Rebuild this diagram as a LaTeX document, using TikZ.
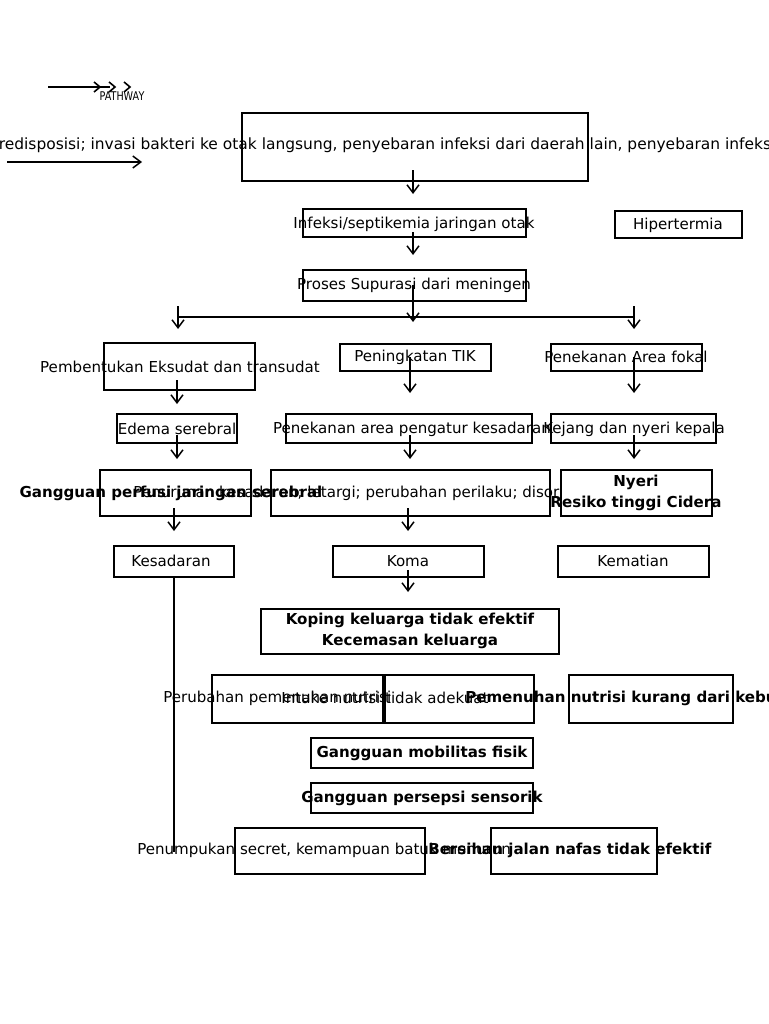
\documentclass[tikz,border=0pt]{standalone}
\usepackage{fontspec}
\setmainfont{DejaVu Sans}
\usetikzlibrary{arrows.meta}
\begin{document}
\begin{tikzpicture}[x=0.75pt,y=-0.75pt,
  box/.style={draw,line width=1.7pt,inner sep=0pt},
  wbox/.style={box,fill=white},
  txt/.style={inner sep=0pt,font=\fontsize{11.3}{13}\selectfont},
  btxt/.style={txt,font=\fontsize{11.3}{15.5}\bfseries\selectfont,align=center},
  arr/.style={line width=1.7pt,-{Straight Barb[length=6pt,width=9pt,line width=1.1pt]}},
  ln/.style={line width=1.7pt}]
\useasboundingbox (0,0) rectangle (768,1024);
% legend
\coordinate (l1) at (48,87); \coordinate (l2) at (110,87);
\draw[line width=1.2pt] (l1) -- (l2);
\foreach \x in {100,115,130}{\draw[line width=1.2pt] (\x-6,82) -- (\x,87) -- (\x-6,92);}
\node[inner sep=0pt,font=\fontsize{9}{10}\selectfont] (pw) at (122,96) {\scalebox{0.8}[1]{PATHWAY}};
\coordinate (a1) at (7,162); \coordinate (a2) at (142,162);
\draw[arr] (a1) -- (a2);
% row 0
\node[box,anchor=north west,minimum width=259.5pt,minimum height=51pt] (top) at (241,112) {};
\node[txt,anchor=west,font=\fontsize{11.6}{13}\selectfont] (toptxt) at (-64,145) {Faktor predisposisi; invasi bakteri ke otak langsung, penyebaran infeksi dari daerah lain, penyebaran infeksi};
\node[box,minimum width=167pt,minimum height=21pt] (inf) at (414.5,223) {};
\node[txt] at (414,224) {Infeksi/septikemia jaringan otak};
\node[box,minimum width=95pt,minimum height=20pt] (hip) at (678.5,224.5) {};
\node[txt] at (678,225) {Hipertermia};
\node[box,minimum width=167pt,minimum height=23pt] (pro) at (414.5,285.5) {};
\node[txt] at (414,285) {Proses Supurasi dari meningen};
\draw[arr] (413,170) -- (413,194);
\draw[arr] (413,232) -- (413,255);
% distribution
\coordinate (h1) at (178,317); \coordinate (h2) at (634,317);
\draw[ln] (h1) -- (h2);
\draw[arr] (413,285) -- (413,322);
\draw[arr] (178,306) -- (178,329);
\draw[arr] (634,306) -- (634,329);
% row 1
\node[box,minimum width=113pt,minimum height=35pt] (pem) at (179.5,366.5) {};
\node[txt] at (180,367) {Pembentukan Eksudat dan transudat};
\node[box,minimum width=113pt,minimum height=20pt] (tik) at (415.5,357.5) {};
\node[txt] at (415,357) {Peningkatan TIK};
\node[box,minimum width=113pt,minimum height=20pt] (fok) at (626.5,357.5) {};
\node[txt] at (626,357) {Penekanan Area fokal};
\draw[arr] (177,380) -- (177,404);
\draw[arr] (410,357) -- (410,393);
\draw[arr] (634,357) -- (634,393);
% row 2
\node[box,minimum width=90pt,minimum height=22pt] (ede) at (177,428.5) {};
\node[txt] at (177,429) {Edema serebral};
\node[box,minimum width=184pt,minimum height=22pt] (pen) at (409,428.5) {};
\node[txt] at (412,429) {Penekanan area pengatur kesadaran};
\node[box,minimum width=124pt,minimum height=22pt] (kej) at (633.5,428.5) {};
\node[txt] at (634,429) {Kejang dan nyeri kepala};
\draw[arr] (177,435) -- (177,459);
\draw[arr] (410,435) -- (410,459);
\draw[arr] (634,435) -- (634,459);
% row 3
\node[box,minimum width=113pt,minimum height=35pt] (gpj) at (175.5,493) {};
\node[box,minimum width=209pt,minimum height=35pt] (pk) at (410.5,493) {};
\node[txt] at (410,493) {Penurunan kesadaran; letargi; perubahan perilaku; disorientasi; fotofobia};
\node[btxt] at (171,493) {Gangguan perfusi jaringan serebral};
\node[wbox,minimum width=113pt,minimum height=35pt] (nye) at (636.5,493) {};
\node[btxt] at (636,493) {Nyeri\\Resiko tinggi Cidera};
\draw[arr] (174,508) -- (174,531);
\draw[arr] (408,508) -- (408,531);
% row 4
\node[box,minimum width=90pt,minimum height=23pt] (kes) at (174,561.5) {};
\node[txt] at (171,561) {Kesadaran};
\node[box,minimum width=113pt,minimum height=23pt] (kom) at (408.5,561.5) {};
\node[txt] at (408,561) {Koma};
\node[box,minimum width=113pt,minimum height=23pt] (kem) at (633.5,561.5) {};
\node[txt] at (633,561) {Kematian};
\draw[arr] (408,570) -- (408,592);
\coordinate (vb) at (174,852);
\draw[ln] (kes.south) -- (vb);
% lower
\node[box,line width=1.1pt,minimum width=223.5pt,minimum height=34pt] (kop) at (410,631.5) {};
\node[btxt] at (410,631) {Koping keluarga tidak efektif\\Kecemasan keluarga};
\node[box,line width=1.1pt,minimum width=130pt,minimum height=36pt] (n1) at (298.5,699) {};
\node[box,minimum width=113pt,minimum height=36pt] (n2) at (458.5,699) {};
\node[box,minimum width=123pt,minimum height=36pt] (n3) at (651,699) {};
\node[txt,anchor=west] at (163,698) {Perubahan pemenuhan nutrisi};
\node[txt] at (385,698) {Intake nutrisi tidak adekuat};
\node[btxt,anchor=west] at (465,698) {Pemenuhan nutrisi kurang dari kebutuhan};
\node[box,minimum width=166.5pt,minimum height=22.5pt] (mob) at (422,753) {};
\node[btxt] at (422,753) {Gangguan mobilitas fisik};
\node[box,minimum width=166.5pt,minimum height=22.5pt] (per) at (422,798) {};
\node[btxt] at (422,798) {Gangguan persepsi sensorik};
\node[box,minimum width=142.5pt,minimum height=34.5pt] (pnp) at (330,851) {};
\node[box,minimum width=124.5pt,minimum height=34.5pt] (ber) at (574,851) {};
\node[txt,anchor=west] at (137,850) {Penumpukan secret, kemampuan batuk menurun};
\node[btxt,anchor=west] at (428,850) {Bersihan jalan nafas tidak efektif};
\end{tikzpicture}
\end{document}
